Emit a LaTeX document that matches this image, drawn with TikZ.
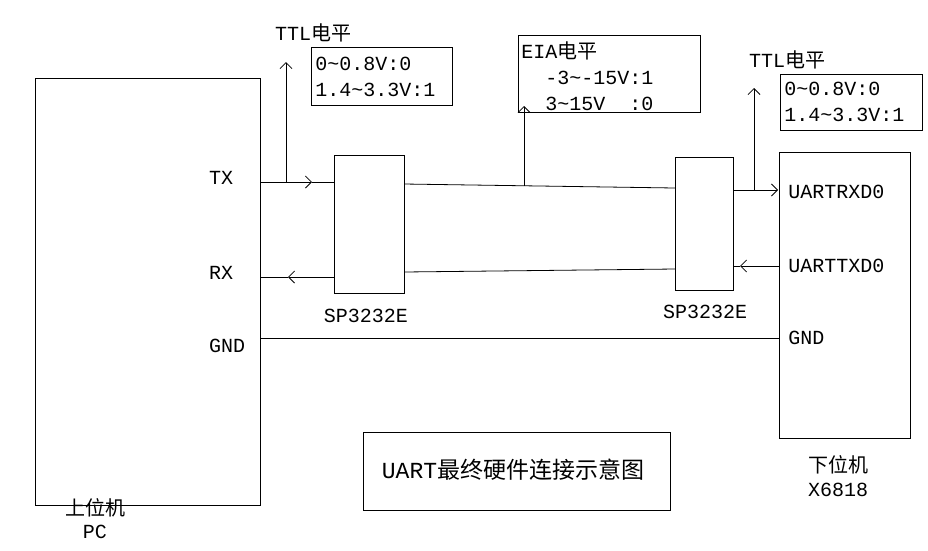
\documentclass[tikz,border=0pt]{standalone}
\usepackage{fontspec}
\setmainfont{Liberation Mono}
\newfontfamily\cjk{Noto Sans CJK SC}
\usetikzlibrary{arrows.meta}
\begin{document}
\begin{tikzpicture}[x=1pt,y=-1pt,line width=0.8pt,
  lbl/.style={font=\fontsize{20}{26}\selectfont,inner sep=0},
  arr/.style={-{Straight Barb[length=6pt,width=12pt]}}]
\useasboundingbox (0,0) rectangle (928,550);
% boxes
\draw (35,78) rectangle (260,505); \node (pc) at (147,290) {};
\draw (334,155) rectangle (404,293); \node (c1) at (369,224) {};
\draw (675,157) rectangle (733,290); \node (c2) at (704,224) {};
\draw (779,152) rectangle (910,438); \node (x) at (845,295) {};
\draw (311,47) rectangle (452,105);
\draw (518,35) rectangle (700,112);
\draw (780,74) rectangle (922,130);
\draw (363,432) rectangle (670,510);
% labels
\node[lbl] (tx) at (221,178) {TX};
\node[lbl] (rx) at (221,273) {RX};
\node[lbl] (g1) at (227,346) {GND};
\node[lbl] (h1) at (95,508) {\cjk 上位机};
\node[lbl] (h2) at (95,532) {PC};
\node[lbl] (s1) at (366,316) {SP3232E};
\node[lbl] (s2) at (705,312) {SP3232E};
\node[lbl,anchor=west] (u1) at (788,192) {UARTRXD0};
\node[lbl,anchor=west] (u2) at (788,266) {UARTTXD0};
\node[lbl,anchor=west] (g2) at (788,338) {GND};
\node[lbl] (l1) at (838,465) {\cjk 下位机};
\node[lbl] (l2) at (838,490) {X6818};
\node[lbl] (t1) at (313,33) {TTL{\cjk 电平}};
\node[lbl,anchor=west,align=left] (b1) at (315,77) {0\textasciitilde0.8V:0\\1.4\textasciitilde3.3V:1};
\node[lbl] (t2) at (787,60) {TTL{\cjk 电平}};
\node[lbl,anchor=west,align=left] (b2) at (784,102) {0\textasciitilde0.8V:0\\1.4\textasciitilde3.3V:1};
\node[lbl,anchor=west,align=left] (e) at (521,76) {EIA{\cjk 电平}\\\ \ -3\textasciitilde-15V:1\\\ \ 3\textasciitilde15V\ \ :0};
\node[lbl,font=\fontsize{23}{26}\selectfont] (tt) at (513,470) {UART{\cjk 最终硬件连接示意图}};
% connectors
\coordinate (a1) at (260,182); \coordinate (a1m) at (312,182); \coordinate (a1e) at (334,182);
\draw[arr] (a1) -- (a1m); \draw (a1m) -- (a1e);
\coordinate (v1) at (286,182); \coordinate (v1t) at (286,62);
\draw[arr] (v1) -- (v1t);
\coordinate (r1) at (334,277); \coordinate (r1m) at (288,277); \coordinate (r1e) at (260,277);
\draw[arr] (r1) -- (r1m); \draw (r1m) -- (r1e);
\coordinate (m1) at (404,184); \coordinate (m1e) at (675,188); \coordinate (m1v) at (524,185.8); \coordinate (m1t) at (524,106);
\draw (m1) -- (m1e); \draw[arr] (m1v) -- (m1t);
\coordinate (m2) at (404,272); \coordinate (m2e) at (675,269);
\draw (m2) -- (m2e);
\coordinate (q1) at (733,190); \coordinate (q1e) at (778,190); \coordinate (q1v) at (754,190); \coordinate (q1t) at (754,88);
\draw[arr] (q1) -- (q1e); \draw[arr] (q1v) -- (q1t);
\coordinate (q2) at (779,266); \coordinate (q2m) at (740,266); \coordinate (q2e) at (733,266);
\draw[arr] (q2) -- (q2m); \draw (q2m) -- (q2e);
\coordinate (gn1) at (260,338); \coordinate (gn2) at (779,338);
\draw (gn1) -- (gn2);
\end{tikzpicture}
\end{document}
